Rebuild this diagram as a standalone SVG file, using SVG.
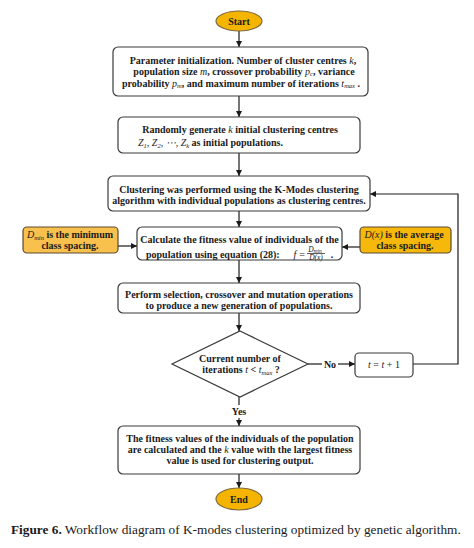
<svg xmlns="http://www.w3.org/2000/svg" width="474" height="548" viewBox="0 0 474 548">
<defs>
<marker id="ah" viewBox="0 0 8 8" refX="8" refY="4" markerWidth="6" markerHeight="6" markerUnits="userSpaceOnUse" orient="auto">
<path d="M0,0 L8,4 L0,8 Z" fill="#1a1a1a"/>
</marker>
<style>
.box{fill:#ffffff;stroke:#3a3a3a;stroke-width:1.2}
.term{fill:#f5b400;stroke:#7a6a40;stroke-width:1.2}
.note1{fill:#f8c04c;stroke:#5a4a30;stroke-width:1.2}
.note2{fill:#f7b80c;stroke:#5a4a30;stroke-width:1.2}
.t{font-weight:bold;font-size:10px;fill:#1a1a1a;text-anchor:middle}
.m{font-style:italic;font-weight:normal}
.s{font-size:6.5px}
.ln{fill:none;stroke:#1a1a1a;stroke-width:1.2}
.cap{font-size:13.3px;fill:#1a1a1a}
</style>
</defs>
<g font-family="'Liberation Serif', 'Times New Roman', serif">
<g id="connectors">
<line class="ln" x1="239" y1="31" x2="239" y2="47" marker-end="url(#ah)"/>
<line class="ln" x1="239" y1="96" x2="239" y2="117" marker-end="url(#ah)"/>
<line class="ln" x1="239" y1="153" x2="239" y2="176" marker-end="url(#ah)"/>
<line class="ln" x1="239" y1="211" x2="239" y2="227" marker-end="url(#ah)"/>
<line class="ln" x1="118" y1="246" x2="137" y2="246" marker-end="url(#ah)"/>
<line class="ln" x1="360" y1="247" x2="342" y2="247" marker-end="url(#ah)"/>
<line class="ln" x1="239" y1="260" x2="239" y2="283" marker-end="url(#ah)"/>
<line class="ln" x1="239" y1="313" x2="239" y2="331" marker-end="url(#ah)"/>
<line class="ln" x1="308" y1="364" x2="322" y2="364"/>
<text class="t" x="330" y="367.5">No</text>
<line class="ln" x1="338" y1="364" x2="355" y2="364" marker-end="url(#ah)"/>
<polyline class="ln" points="413,364 458,364 458,194 370,194" marker-end="url(#ah)"/>
<line class="ln" x1="239" y1="397" x2="239" y2="405"/>
<text class="t" x="239" y="415">Yes</text>
<line class="ln" x1="239" y1="418" x2="239" y2="426" marker-end="url(#ah)"/>
<line class="ln" x1="239" y1="474" x2="239" y2="488" marker-end="url(#ah)"/>
</g>
<g id="start">
<ellipse class="term" cx="239" cy="21" rx="23" ry="10"/>
<text class="t" x="239" y="24.5">Start</text>
</g>
<g id="init">
<rect class="box" x="113" y="47" width="255" height="49" rx="5"/>
<text class="t" x="243" y="63.5">Parameter initialization. Number of cluster centres <tspan class="m">k</tspan>,</text>
<text class="t" x="244" y="74.5">population size <tspan class="m">m</tspan>, crossover probability <tspan class="m">p</tspan><tspan class="m s" dy="1.2">c</tspan><tspan dy="-1.2">, variance</tspan></text>
<text class="t" x="241" y="86.5">probability <tspan class="m">p</tspan><tspan class="m s" dy="1.2">m</tspan><tspan dy="-1.2">, and maximum number of iterations </tspan><tspan class="m">t</tspan><tspan class="m s" dy="1.2">max</tspan><tspan dy="-1.2"> .</tspan></text>
</g>
<g id="generate">
<rect class="box" x="118" y="117" width="242" height="36" rx="5"/>
<text class="t" x="240" y="133">Randomly generate <tspan class="m">k</tspan> initial clustering centres</text>
<text class="t" x="138" y="146" style="text-anchor:start"><tspan class="m">Z</tspan><tspan class="m s" dy="1.5">1</tspan><tspan class="m" dy="-1.5">, Z</tspan><tspan class="m s" dy="1.5">2</tspan><tspan class="m" dy="-1.5">, ⋯, Z</tspan><tspan class="m s" dy="1.5">k</tspan><tspan dy="-1.5"> as initial populations.</tspan></text>
</g>
<g id="cluster">
<rect class="box" x="108" y="176" width="262" height="35" rx="5"/>
<text class="t" x="239" y="193">Clustering was performed using the K-Modes clustering</text>
<text class="t" x="239" y="204">algorithm with individual populations as clustering centres.</text>
</g>
<g id="fitness">
<rect class="box" x="137" y="227" width="205" height="33" rx="5"/>
<text class="t" x="239.5" y="242.5">Calculate the fitness value of individuals of the</text>
<text class="t" x="146" y="258" style="text-anchor:start">population using equation (28):</text>
<text class="t m" x="295" y="258">f</text>
<text class="t" x="302" y="258" style="font-weight:normal">=</text>
<text class="t m" x="315" y="252" style="font-size:7.5px">D<tspan style="font-size:5.5px" dy="1.2">min</tspan></text>
<line x1="307" y1="253.5" x2="325" y2="253.5" stroke="#1a1a1a" stroke-width="0.7"/>
<text class="t m" x="316" y="260" style="font-size:7.5px">D(x)</text>
<text class="t" x="332" y="258">.</text>
</g>
<g id="dmin">
<rect class="note1" x="23" y="227" width="95" height="26" rx="4"/>
<text class="t" x="70" y="238"><tspan class="m">D</tspan><tspan class="m s" dy="1.5">min</tspan><tspan dy="-1.5"> is the minimum</tspan></text>
<text class="t" x="70" y="249">class spacing.</text>
</g>
<g id="dx">
<rect class="note2" x="360" y="227" width="91" height="26" rx="4"/>
<text class="t" x="404" y="238"><tspan class="m">D</tspan><tspan class="m">(x)</tspan> is the average</text>
<text class="t" x="405" y="249">class spacing.</text>
</g>
<g id="operate">
<rect class="box" x="118" y="283" width="242" height="30" rx="5"/>
<text class="t" x="239" y="298">Perform selection, crossover and mutation operations</text>
<text class="t" x="239" y="308.5">to produce a new generation of populations.</text>
</g>
<g id="decision">
<polygon class="box" points="240,331 308,364 240,397 172,364"/>
<text class="t" x="240" y="362">Current number of</text>
<text class="t" x="241" y="373">iterations <tspan class="m">t</tspan> &lt; <tspan class="m">t</tspan><tspan class="m s" dy="1.5">max</tspan><tspan dy="-1.5"> ?</tspan></text>
</g>
<g id="increment">
<rect class="box" x="355" y="353" width="58" height="24" rx="4"/>
<text class="t" x="384" y="368" style="font-weight:normal"><tspan class="m">t</tspan> = <tspan class="m">t</tspan> + 1</text>
</g>
<g id="output">
<rect class="box" x="118" y="426" width="242" height="48" rx="5"/>
<text class="t" x="240" y="442">The fitness values of the individuals of the population</text>
<text class="t" x="240" y="453">are calculated and the <tspan class="m">k</tspan> value with the largest fitness</text>
<text class="t" x="240" y="464">value is used for clustering output.</text>
</g>
<g id="end">
<ellipse class="term" cx="239" cy="499" rx="23" ry="11"/>
<text class="t" x="239" y="502.5">End</text>
</g>
<text class="cap" x="11" y="534"><tspan font-weight="bold">Figure 6.</tspan>  Workflow diagram of K-modes clustering optimized by genetic algorithm.</text>
</g>
</svg>
